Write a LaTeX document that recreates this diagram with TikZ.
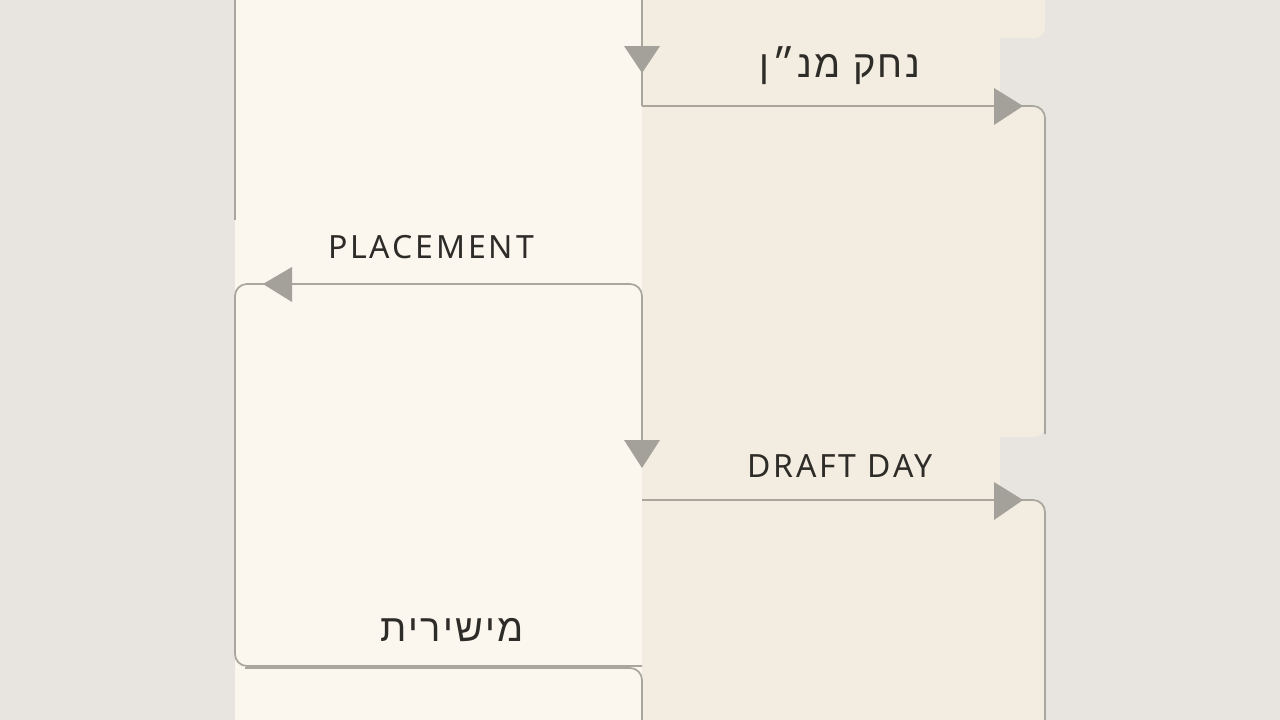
\documentclass[tikz,border=0pt]{standalone}
\usepackage{fontspec}
\TeXXeTstate=1
\newfontfamily\hebfont[Script=Hebrew,LetterSpace=6]{Liberation Sans}
\newfontfamily\labfont[LetterSpace=9]{Noto Sans}
\definecolor{bgc}{HTML}{E8E4E0}
\definecolor{creamc}{HTML}{FBF7EF}
\definecolor{beigec}{HTML}{F3EDE1}
\definecolor{linec}{HTML}{A9A69E}
\definecolor{arrc}{HTML}{A3A199}
\definecolor{txtc}{HTML}{2E2C28}
\begin{document}
\begin{tikzpicture}[x=1pt,y=-1pt,
  conn/.style={draw=linec,line width=1.7pt,rounded corners=12pt},
  tri/.style={fill=arrc},
  heb/.style={font=\hebfont\fontsize{38}{42}\selectfont,text=txtc,inner sep=0pt},
  lab/.style={font=\labfont\fontsize{32}{36}\selectfont,text=txtc,inner sep=0pt}]
\useasboundingbox (0,0) rectangle (1280,720);
\fill[bgc] (0,0) rectangle (1280,720);
% columns
\fill[creamc] (235,0) rectangle (642,720);
\fill[beigec] (642,0) rectangle (1000,720);
\fill[beigec,rounded corners=10pt] (642,-20) rectangle (1045,38);
\fill[beigec,rounded corners=12pt] (642,106) -- (1045,106) -- (1045,437) -- (642,437) -- cycle;
\fill[beigec,rounded corners=12pt] (642,500) -- (1045,500) -- (1045,740) -- (642,740) -- cycle;
% coordinates
\coordinate (l1top) at (235,0);
\coordinate (l1bot) at (235,220);
\coordinate (v1top) at (642,0);
\coordinate (c1) at (642,106);
\coordinate (r1) at (1045,106);
\coordinate (r1b) at (1045,434);
\coordinate (pr) at (642,284);
\coordinate (pl) at (235,284);
\coordinate (pbl) at (235,666);
\coordinate (pbr) at (642,666);
\coordinate (pdown) at (642,462);
\coordinate (d1) at (642,500);
\coordinate (d2) at (1045,500);
\coordinate (d2b) at (1045,740);
\coordinate (l3a) at (245,668);
\coordinate (l3b) at (642,668);
\coordinate (l3c) at (642,740);
% connectors
\draw[conn] (l1top) -- (l1bot);
\draw[conn,sharp corners] (v1top) -- (c1);
\draw[conn] (c1) -- (r1) -- (r1b);
\draw[conn] (pdown) -- (pr) -- (pl) -- (pbl) -- (pbr);
\draw[conn] (d1) -- (d2) -- (d2b);
\draw[conn] (l3a) -- (l3b) -- (l3c);
% arrowheads
\fill[tri] (624,46) -- (660,46) -- (642,73) -- cycle;
\fill[tri] (994,88) -- (994,125) -- (1023,106) -- cycle;
\fill[tri] (292,267) -- (292,302) -- (263,284) -- cycle;
\fill[tri] (624,440) -- (660,440) -- (642,468) -- cycle;
\fill[tri] (994,482) -- (994,520) -- (1023,500) -- cycle;
% labels
\node[heb] (t1) at (840,66) {\beginR נחק מנ״ן\endR};
\node[lab] (t2) at (431,247) {PLACEMENT};
\node[lab] (t3) at (840,466) {DRAFT DAY};
\node[heb] (t4) at (452,630) {\beginR מישירית\endR};
\end{tikzpicture}
\end{document}
